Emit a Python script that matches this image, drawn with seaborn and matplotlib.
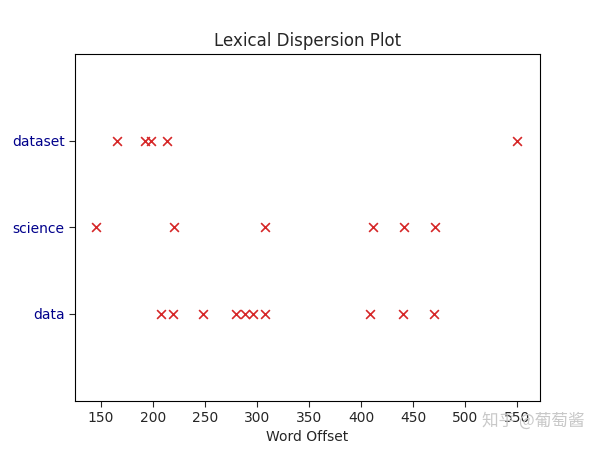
import numpy as np
import pandas as pd
import matplotlib
matplotlib.use("Agg")
import matplotlib.pyplot as plt
import seaborn as sns

words = ["data", "science", "dataset"]
offsets_data = [208, 219, 248, 280, 288, 296, 308, 409, 440, 470]
offsets_science = [145, 220, 308, 411, 441, 471]
offsets_dataset = [165, 192, 198, 213, 550]

rows = []
for i, offs in enumerate([offsets_data, offsets_science, offsets_dataset]):
    for o in offs:
        rows.append({"offset": o, "word": i})
df = pd.DataFrame(rows)

sns.set_style("white")
plt.rcParams["font.family"] = ["DejaVu Sans", "Noto Sans CJK SC"]

fig, ax = plt.subplots(figsize=(6, 4.5), dpi=100)
sns.scatterplot(data=df, x="offset", y="word", marker="x", color="#d62728",
                s=40, linewidth=1.2, ax=ax)

ax.set_yticks(range(len(words)))
ax.set_yticklabels(words, color="darkblue")
ax.set_ylim(-1, 3)
ax.set_xlim(125, 572)
ax.set_xticks(range(150, 551, 50))
ax.set_xlabel("Word Offset")
ax.set_ylabel("")
ax.set_title("Lexical Dispersion Plot")
for s in ax.spines.values():
    s.set_color("black")
    s.set_linewidth(0.8)
ax.tick_params(left=True, bottom=True, length=4)

fig.subplots_adjust(left=0.125, right=0.9, top=0.88, bottom=0.11)
fig.text(0.975, 0.045, "知乎 @葡萄酱", ha="right", va="bottom", fontsize=12,
         color="#c8c8c8", family=["Noto Sans CJK SC", "DejaVu Sans"])

fig.savefig("out.png", dpi=100)
